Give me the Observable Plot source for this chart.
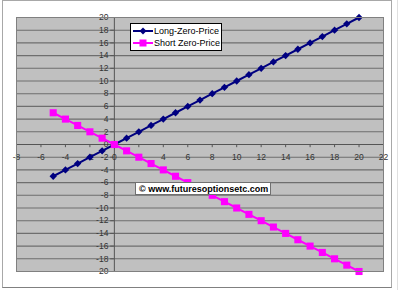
<!DOCTYPE html>
<html>
<head>
<meta charset="utf-8">
<script src="https://cdn.jsdelivr.net/npm/d3@7"></script>
<script src="https://cdn.jsdelivr.net/npm/@observablehq/plot@0.6"></script>
<style>
  html, body { margin: 0; padding: 0; background: #fff; }
  #wrap { position: relative; width: 400px; height: 290px; overflow: hidden; font-family: "Liberation Sans", Arial, sans-serif; }
  #border { position: absolute; left: 2px; top: 0px; width: 388px; height: 286px; border: 1px solid #a8a8a8; border-bottom-color: #808080; box-sizing: content-box; pointer-events: none; }
  #sheet { position: absolute; left: 397px; top: 0; width: 1px; height: 290px; background: #e0e0e0; }
  #legend { position: absolute; left: 130px; top: 23px; width: 90px; height: 26px; background: #fff; border: 1px solid #000; font-size: 9px; color: #000; }
  .row { position: absolute; left: 2px; height: 12px; display: flex; align-items: center; }
  .row svg { display: block; }
  .row span { margin-left: 1px; white-space: nowrap; }
  #wm { position: absolute; left: 135px; top: 182px; width: 136px; height: 13px; background: #fff; border: 1px solid #707070; font-size: 9px; font-weight: bold; color: #000; line-height: 13px; padding-left: 3px; box-sizing: border-box; white-space: nowrap; }
</style>
</head>
<body>
<div id="wrap">
  <div id="chart"></div>
  <div id="border"></div>
  <div id="sheet"></div>
  <div id="legend">
    <div class="row" style="top:1px"><svg width="20" height="12"><line x1="0" y1="6" x2="20" y2="6" stroke="#000080" stroke-width="2"/><path d="M10,2.5L13.5,6L10,9.5L6.5,6Z" fill="#000080"/></svg><span>Long-Zero-Price</span></div>
    <div class="row" style="top:13px"><svg width="20" height="12"><line x1="0" y1="6" x2="20" y2="6" stroke="#ff00ff" stroke-width="2"/><rect x="6.5" y="2.5" width="7" height="7" fill="#ff00ff"/></svg><span>Short Zero-Price</span></div>
  </div>
  <div id="wm">© www.futuresoptionsetc.com</div>
</div>
<script>
const xValues = [-5,-4,-3,-2,-1,0,1,2,3,4,5,6,7,8,9,10,11,12,13,14,15,16,17,18,19,20];
const longZeroPrice = [-5,-4,-3,-2,-1,0,1,2,3,4,5,6,7,8,9,10,11,12,13,14,15,16,17,18,19,20];
const shortZeroPrice = [5,4,3,2,1,0,-1,-2,-3,-4,-5,-6,-7,-8,-9,-10,-11,-12,-13,-14,-15,-16,-17,-18,-19,-20];
const xTickLabels = [-8,-6,-4,-2,0,2,4,6,8,10,12,14,16,18,20,22];
const yTickLabels = [-20,-18,-16,-14,-12,-10,-8,-6,-4,-2,0,2,4,6,8,10,12,14,16,18,20];
const seriesNames = ["Long-Zero-Price", "Short Zero-Price"];

const longData = xValues.map((x, i) => ({x, y: longZeroPrice[i], series: seriesNames[0]}));
const shortData = xValues.map((x, i) => ({x, y: shortZeroPrice[i], series: seriesNames[1]}));
const gridY = yTickLabels.filter(v => Math.abs(v) < 20 && v !== 0);

const chart = Plot.plot({
  width: 400,
  height: 290,
  marginLeft: 16,
  marginRight: 17,
  marginTop: 17,
  marginBottom: 19,
  x: {domain: [-8, 22], axis: null},
  y: {domain: [-20, 20], axis: null},
  style: {fontFamily: "'Liberation Sans', Arial, sans-serif", fontSize: "8.5px", background: "transparent", color: "#333"},
  marks: [
    Plot.frame({fill: "#c0c0c0"}),
    Plot.ruleY(gridY, {stroke: "#6e6e6e", strokeWidth: 1.1}),
    Plot.ruleX([0], {stroke: "#555"}),
    Plot.ruleY([0], {stroke: "#555"}),
    Plot.ruleX(xTickLabels, {x: d => d, y1: 0, y2: -0.5, stroke: "#555"}),
    Plot.ruleY(yTickLabels, {y: d => d, x1: 0, x2: -0.3, stroke: "#555"}),
    Plot.text(xTickLabels, {x: d => d, y: 0, dy: 13, text: d => String(d), fill: "#333"}),
    Plot.text(yTickLabels, {x: 0, y: d => d, dx: -6, textAnchor: "end", text: d => String(d), fill: "#333"}),
    Plot.line(longData, {x: "x", y: "y", stroke: "#000080", strokeWidth: 2}),
    Plot.dot(longData, {x: "x", y: "y", symbol: "diamond2", r: 3.3, fill: "#000080", stroke: "none"}),
    Plot.line(shortData, {x: "x", y: "y", stroke: "#ff00ff", strokeWidth: 2}),
    Plot.dot(shortData, {x: "x", y: "y", symbol: "square", r: 4, fill: "#ff00ff", stroke: "none"}),
    Plot.frame({stroke: "#808080"})
  ]
});
document.getElementById("chart").appendChild(chart);
</script>
</body>
</html>
